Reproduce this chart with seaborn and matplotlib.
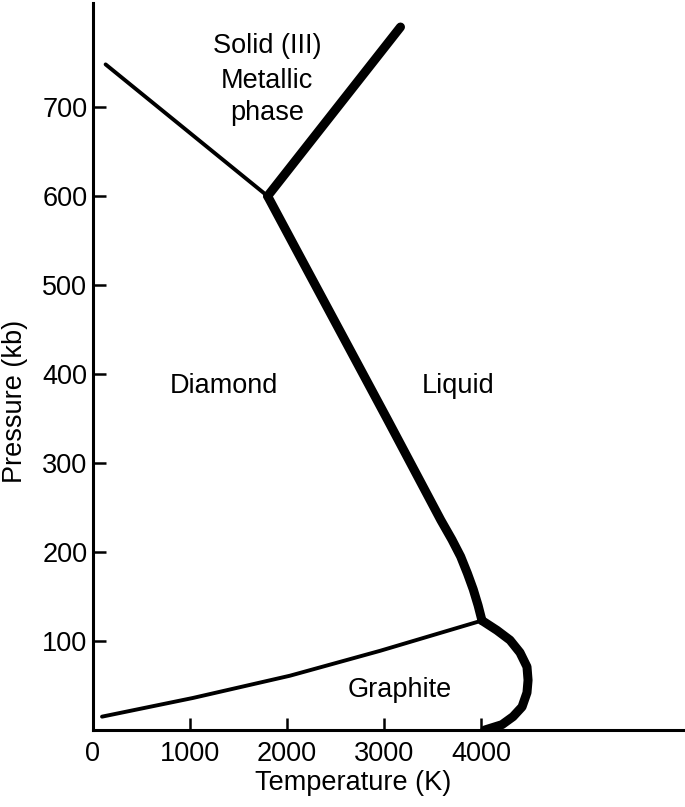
import matplotlib
matplotlib.use("Agg")
import matplotlib.pyplot as plt
import seaborn as sns
import pandas as pd

# ---- data (Temperature in K, Pressure in kb) ----
metallic_T = [1800, 3170]
metallic_P = [600, 790]

diamond_metallic_T = [130, 1800]
diamond_metallic_P = [748, 600]

melting_T = [1800, 2080, 2858, 3040, 3585, 3700, 3790, 3860, 3920, 3970, 4010]
melting_P = [600, 543, 385, 348, 236, 214, 195, 176, 158, 140, 123]

graphite_diamond_T = [93, 1030, 2030, 2960, 4010]
graphite_diamond_P = [15, 36, 61, 89, 123]

graphite_liquid_T = [4010, 4165, 4299, 4402, 4474, 4485, 4474, 4423, 4330, 4216, 4040]
graphite_liquid_P = [123, 112, 101, 87, 71, 56, 42, 26, 15, 6, 0]

x_ticks = [0, 1000, 2000, 3000, 4000]
x_tick_labels = ["0", "1000", "2000", "3000", "4000"]
y_ticks = [100, 200, 300, 400, 500, 600, 700]
y_tick_labels = ["100", "200", "300", "400", "500", "600", "700"]

region_labels = ["Solid (III)", "Metallic", "phase", "Diamond", "Liquid", "Graphite"]
region_T = [1794, 1794, 1794, 1350, 3763, 3165]
region_P = [761, 721, 686, 379, 379, 37]

curves = [
    ("metallic", metallic_T, metallic_P, 6.5),
    ("diamond_metallic", diamond_metallic_T, diamond_metallic_P, 2.8),
    ("melting", melting_T, melting_P, 6.5),
    ("graphite_diamond", graphite_diamond_T, graphite_diamond_P, 2.8),
    ("graphite_liquid", graphite_liquid_T, graphite_liquid_P, 6.5),
]

sns.set_theme(style="white")
plt.rcParams["font.family"] = ["Liberation Sans", "DejaVu Sans"]

fig = plt.figure(figsize=(6.85, 8.07), dpi=100)
ax = fig.add_axes([93 / 685, 77 / 807, 592 / 685, 727 / 807])

for name, T, P, lw in curves:
    df = pd.DataFrame({"T": T, "P": P})
    sns.lineplot(data=df, x="T", y="P", sort=False, estimator=None, ax=ax,
                 color="black", linewidth=lw, solid_capstyle="round",
                 solid_joinstyle="round")

for txt, t, p in zip(region_labels, region_T, region_P):
    ax.text(t, p, txt, ha="center", va="baseline", fontsize=19.5, color="black")

ax.set_xlim(0, 6103)
ax.set_ylim(0, 817)

ax.set_xticks(x_ticks)
ax.set_xticklabels(x_tick_labels)
ax.set_yticks(y_ticks)
ax.set_yticklabels(y_tick_labels)

ax.tick_params(axis="both", direction="in", length=9, width=1.8, color="black",
               labelsize=19.5, labelcolor="black")
ax.tick_params(axis="x", pad=8, bottom=True)
ax.tick_params(axis="y", pad=4, left=True)

for s in ["top", "right"]:
    ax.spines[s].set_visible(False)
for s in ["left", "bottom"]:
    ax.spines[s].set_linewidth(2.2)
    ax.spines[s].set_color("black")

ax.set_xlabel("Temperature (K)", fontsize=19.5, color="black")
ax.set_ylabel("Pressure (kb)", fontsize=19.5, color="black")
ax.xaxis.set_label_coords(0.439, -0.055)
ax.yaxis.set_label_coords(-0.11, 0.4525)

fig.savefig("out.png", dpi=100)
